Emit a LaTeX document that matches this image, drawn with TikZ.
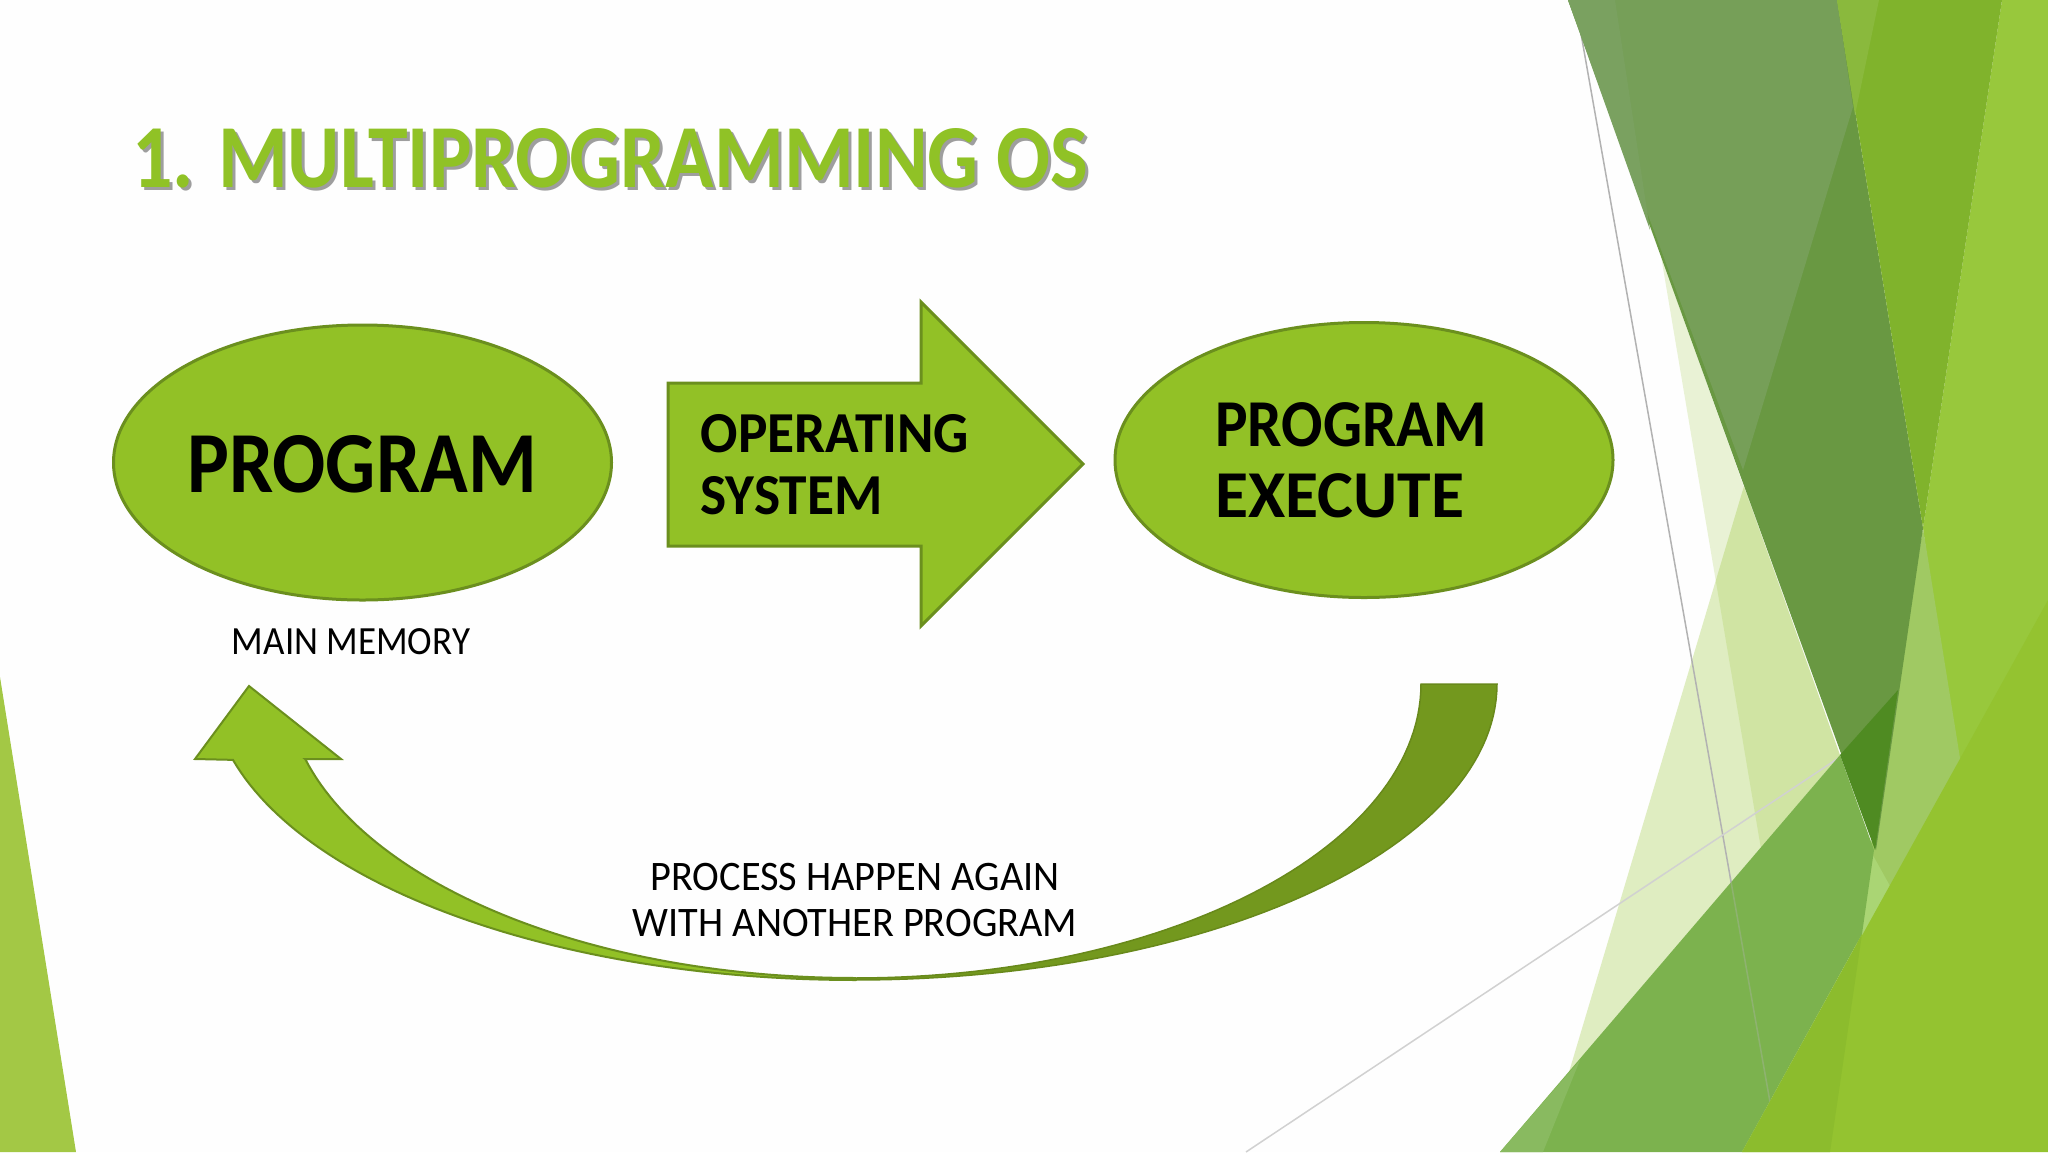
\documentclass[tikz,border=0pt]{standalone}
\usepackage{fontspec}
\setmainfont{Carlito}
\usetikzlibrary{shapes.geometric}
\definecolor{facetgreen}{RGB}{144,194,38}
\definecolor{cornergreen}{RGB}{163,200,69}
\definecolor{blobgreen}{RGB}{146,193,38}
\definecolor{blobedge}{RGB}{107,143,30}
\definecolor{darkband}{RGB}{115,152,30}
\definecolor{olivedark}{RGB}{105,152,66}
\definecolor{olivelight}{RGB}{118,159,88}
\definecolor{olivepale}{RGB}{122,161,96}
\definecolor{midgreen}{RGB}{124,178,78}
\definecolor{deepgreen}{RGB}{79,139,34}
\definecolor{topgreen}{RGB}{128,179,44}
\definecolor{sidegreen}{RGB}{152,200,60}
\definecolor{softgreen}{RGB}{160,201,99}
\definecolor{palegreen}{RGB}{170,213,116}
\definecolor{brightgreen}{RGB}{148,195,48}
\definecolor{stripegreen}{RGB}{140,188,45}
\newcommand\setface[3]{\fontsize{#1}{#2}\selectfont\addfontfeature{FakeStretch=#3}}
\tikzset{
  blob/.style={ellipse,draw=blobedge,fill=blobgreen,line width=3pt,inner sep=0pt,minimum width=498pt,minimum height=275pt},
  blockarrow/.style={draw=blobedge,fill=blobgreen,line width=3pt,line join=miter},
  boldtext/.style={text=black,align=left,inner sep=0pt},
  plaintext/.style={text=black,align=center,inner sep=0pt},
}
\begin{document}
\begin{tikzpicture}[x=1pt,y=-1pt]
\useasboundingbox (0,0) rectangle (2048,1152);
\fill[white!99.5!black] (0,0) rectangle (2048,1152);
% left corner
\fill[cornergreen] (0,677) -- (76,1152) -- (0,1152) -- cycle;
% pale facets
\fill[facetgreen,opacity=.28] (1744,486) -- (1569,1072) -- (1840,755) -- cycle;
\fill[facetgreen,opacity=.19] (1661,256) -- (1761,849) -- (1840,755) -- cycle;
% thin lines
\draw[black!30,line width=1.5pt] (1575,0) -- (1770,1102);
\draw[black!18,line width=1.5pt] (1246,1152) -- (1840,757);
% right facets
\fill[sidegreen] (2002,0) -- (2048,0) -- (2048,700) -- (1960,800) -- (1923,528) -- cycle;
\fill[softgreen] (1923,528) -- (1960,758) -- (1970,770) -- (1890,900) -- (1870,850) -- cycle;
\fill[palegreen] (1870,850) -- (1895,895) -- (1855,960) -- cycle;
\fill[midgreen] (1500,1152) -- (1840,755) -- (1874,850) -- (1862,934) -- (1742,1152) -- cycle;
\fill[midgreen!90!white] (1500,1152) -- (1543,1152) -- (1580,1060) -- cycle;
\draw[black!30,opacity=.35,line width=1.5pt] (1730,876) -- (1770,1102);
\fill[olivedark] (1568,0) -- (1837,0) -- (1923,528) -- (1876,850) -- cycle;
\fill[olivelight] (1568,0) -- (1837,0) -- (1853,107) -- (1743,470) -- cycle;
\fill[olivepale] (1568,0) -- (1615,0) -- (1650,230) -- cycle;
\fill[deepgreen] (1840,755) -- (1898,690) -- (1875,850) -- cycle;
\fill[topgreen] (1837,0) -- (2002,0) -- (1923,528) -- cycle;
\fill[topgreen!92!white] (1837,0) -- (1879,0) -- (1855,115) -- cycle;
\fill[brightgreen] (2048,600) -- (2048,1152) -- (1742,1152) -- cycle;
\fill[stripegreen] (1742,1152) -- (1830,1152) -- (1862,934) -- cycle;
% title
\node[anchor=base west,inner sep=0pt,font=\bfseries\setface{90}{90}{0.888},text=black!38] (titleshadow) at (135,190) {1. MULTIPROGRAMMING OS};
\node[anchor=base west,inner sep=0pt,font=\bfseries\setface{90}{90}{0.888},text=facetgreen] (title) at (132,187) {1. MULTIPROGRAMMING OS};
% blobs
\node[blob] (program) at (362.5,462.5) {};
\node[boldtext,font=\bfseries\setface{87}{87}{0.905}] (programlabel) at (362,464) {PROGRAM};
\node[blob] (execute) at (1364,460) {};
\node[boldtext,font=\bfseries\setface{67}{71}{0.915},anchor=west] (executelabel) at (1215,460) {PROGRAM\\{\setface{67}{71}{1.01}EXECUTE}};
% block arrow
\draw[blockarrow] (668,383) -- (921,383) -- (921,302) -- (1083,464) -- (921,626) -- (921,546) -- (668,546) -- cycle;
\node[boldtext,font=\bfseries\setface{58}{62}{0.955}] (oslabel) at (835,465) {OPERATING\\SYSTEM};
\node[plaintext,font=\setface{40}{46}{0.925}] (memory) at (351,642) {MAIN MEMORY};
% curved arrow
\draw[darkband!90!black,fill=darkband,line width=1.5pt] plot[domain=0:90,samples=60] ({855+642*cos(\x)},{684+296*sin(\x)}) -- plot[domain=90:0,samples=60] ({855+566*cos(\x)},{684+294*sin(\x)}) -- cycle;
\draw[blockarrow,line width=2pt] (249,686) -- (341,759) -- (305,759) -- plot[domain=165:90,samples=60] ({855+569*cos(\x)},{683+295*sin(\x)}) -- plot[domain=90:165,samples=60] ({855+644*cos(\x)},{683+297*sin(\x)}) -- (195,759) -- cycle;
\node[plaintext,font=\setface{42}{46}{0.96}] (again) at (855,900.5) {PROCESS HAPPEN AGAIN\\WITH ANOTHER PROGRAM};
\end{tikzpicture}
\end{document}
